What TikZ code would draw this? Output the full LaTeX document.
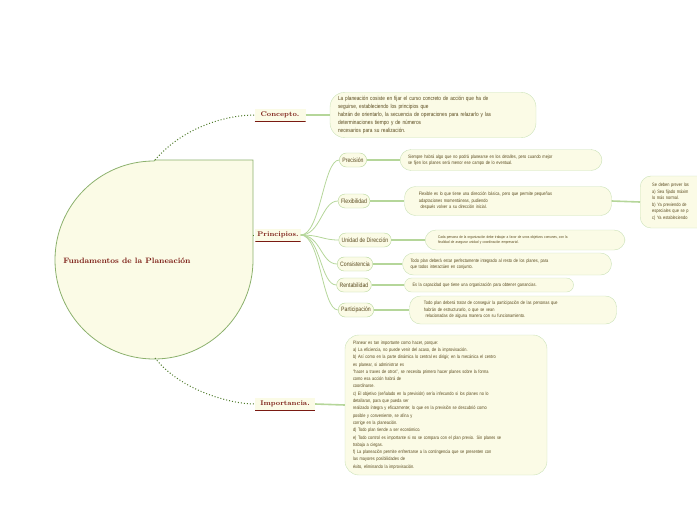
\documentclass[tikz,border=0pt]{standalone}
\usepackage{fontspec}
\newfontfamily\nar{Liberation Sans}[FakeStretch=0.82]
\begin{document}
\begin{tikzpicture}[x=1pt,y=-1pt,
 lbl/.style={fill=cream,font=\fontsize{6.8}{7}\selectfont\bfseries\rmfamily,text=dred,inner sep=2pt,minimum height=13,path picture={\draw[dred,line width=1.5pt](path picture bounding box.south west)--(path picture bounding box.south east);}},
 sub/.style={draw=lgreen,fill=cream,rounded corners=7pt,font=\nar\fontsize{6.3}{7}\selectfont,text=txt,minimum height=14,inner sep=3pt},
 desc/.style={draw=lgreen!70,fill=cream,rounded corners=11pt,font=\nar\fontsize{4.8}{6.5}\selectfont,text=txt,align=left,inner xsep=8pt,inner ysep=3pt},
 lk/.style={lgreen,line width=0.8pt},
 bar/.style={lgreen,line width=1.6pt},
 dot/.style={dgreen,dotted,line width=1pt}]
\definecolor{cream}{HTML}{FBFBE6}
\definecolor{dred}{HTML}{7A1A12}
\definecolor{lgreen}{HTML}{B5D69A}
\definecolor{dgreen}{HTML}{4E7A2A}
\definecolor{txt}{HTML}{5A4A1E}
\useasboundingbox (0,0) rectangle (697,520);
% main shape
\draw[draw=lgreen!60!dgreen,fill=cream,line width=0.8pt] (155,160)--(253,160)--(253,260) arc[start angle=0,end angle=270,radius=99]--cycle;
\node[font=\rmfamily\bfseries\fontsize{7.8}{9}\selectfont,text=dred] (m) at (127,261) {Fundamentos de la Planeación};
\coordinate (mt) at (155,160);
\coordinate (mr) at (253,235);
\coordinate (mb) at (155,358);
\node[lbl,minimum width=51] (c) at (280,115) {Concepto.};
\node[lbl,minimum width=45] (p) at (278,235) {Principios.};
\node[lbl,minimum width=60] (i) at (285,404) {Importancia.};
\draw[dot] (mt) .. controls (185,125) and (230,115) .. (c.west);
\draw[dot] (mr) -- (p.west);
\draw[dot] (mb) .. controls (180,390) and (230,404) .. (i.west);
% concept
\node[desc,font=\nar\fontsize{5.8}{8}\selectfont,rounded corners=15pt,text width=190,inner ysep=4pt] (cd) at (433,115) {La planeación cosiste en fijar el curso concreto de acción que ha de\\seguirse, estableciendo los principios que\\habrán de orientarlo, la secuencia de operaciones para relazarlo y las\\determinaciones tiempo y de números\\necesarios para su realización.};
\draw[bar] (c.east)--(cd.west);
% principles
\node[sub] (s1) at (353,160) {Precisión};
\node[sub] (s2) at (354,201) {Flexibilidad};
\node[sub] (s3) at (365,240) {Unidad de Dirección};
\node[sub] (s4) at (355,264) {Consistencia};
\node[sub] (s5) at (354,285) {Rentabilidad};
\node[sub] (s6) at (356,310) {Participación};
\foreach \s in {s1,s2,s3,s4,s5,s6}
 \draw[lk] (p.east) .. controls +(20,0) and +(-16,0) .. (\s.west);
\node[desc,text width=186,minimum height=21] (d1) at (501,160) {Siempre habrá algo que no podrá planearse en los detalles, pero cuando mejor\\se fijen los planes será menor ese campo de lo eventual.};
\node[desc,text width=191,minimum height=29] (d2) at (508,201) {\ \ \ \ Flexible es lo que tiene una dirección básica, pero que permite pequeñas\\\ \ \ \ adaptaciones momentáneas, pudiendo\\\ \ \ \ \ después volver a su dirección inicial.};
\node[desc,text width=184,minimum height=20,font=\nar\fontsize{3.8}{5}\selectfont] (d3) at (525,240) {\ \ \ \ Cada persona de la organización debe trabajar a favor de unos objetivos comunes, con la\\\ \ \ \ finalidad de asegurar unidad y coordinación empresarial.};
\node[desc,text width=193,minimum height=22] (d4) at (507,264) {Todo plan deberá estar perfectamente integrado al resto de los planes, para\\que todos interactúen en conjunto.};
\node[desc,text width=153,minimum height=14,rounded corners=7pt] (d5) at (489,285) {Es la capacidad que tiene una organización para obtener ganancias.};
\node[desc,text width=191,minimum height=28] (d6) at (513,310) {\ \ \ \ Todo plan deberá tratar de conseguir la participación de las personas que\\\ \ \ \ habrán de estructurarlo, o que se vean\\\ \ \ \ \ relacionadas de alguna manera con su funcionamiento.};
\foreach \a/\b in {s1/d1,s2/d2,s3/d3,s4/d4,s5/d5,s6/d6} \draw[bar] (\a.east)--(\b.west);
\node[desc,anchor=west,text width=80,minimum height=52,inner xsep=12pt] (d7) at (640,202) {Se deben prever los\\a) Sea fijado máxim\\lo más normal.\\b) Ya previendo de\\especiales que se p\\c) Ya estableciendo};
\draw[bar] (d2.east)--(d7.west);
% importance
\node[desc,rounded corners=14pt,text width=186,minimum height=140,font=\nar\fontsize{4.8}{7.3}\selectfont] (id) at (446,405) {Planear es tan importante como hacer, porque:\\a) La eficiencia, no puede venir del acaso, de la improvisación.\\b) Así como en la parte dinámica lo central es dirigir, en la mecánica el centro\\es planear, si administrar es\\"hacer a traves de otros", se necesita primero hacer planes sobre la forma\\como esa acción habrá de\\coordinarse.\\c) El objetivo (señalado en la previsión) sería infecundo si los planes no lo\\detallaran, para que pueda ser\\realizado íntegra y eficazmente; lo que en la previsión se descubrió como\\posible y conveniente, se afina y\\corrige en la planeación.\\d) Todo plan tiende a ser económico.\\e) Todo control es importante si no se compara con el plan previo. Sin planes se\\trabaja a ciegas.\\f) La planeación permite enfrentarse a la contingencia que se presenten con\\las mayores posibilidades de\\éxito, eliminando la improvisación.};
\draw[bar] (i.east)--(id.west);
\end{tikzpicture}
\end{document}
